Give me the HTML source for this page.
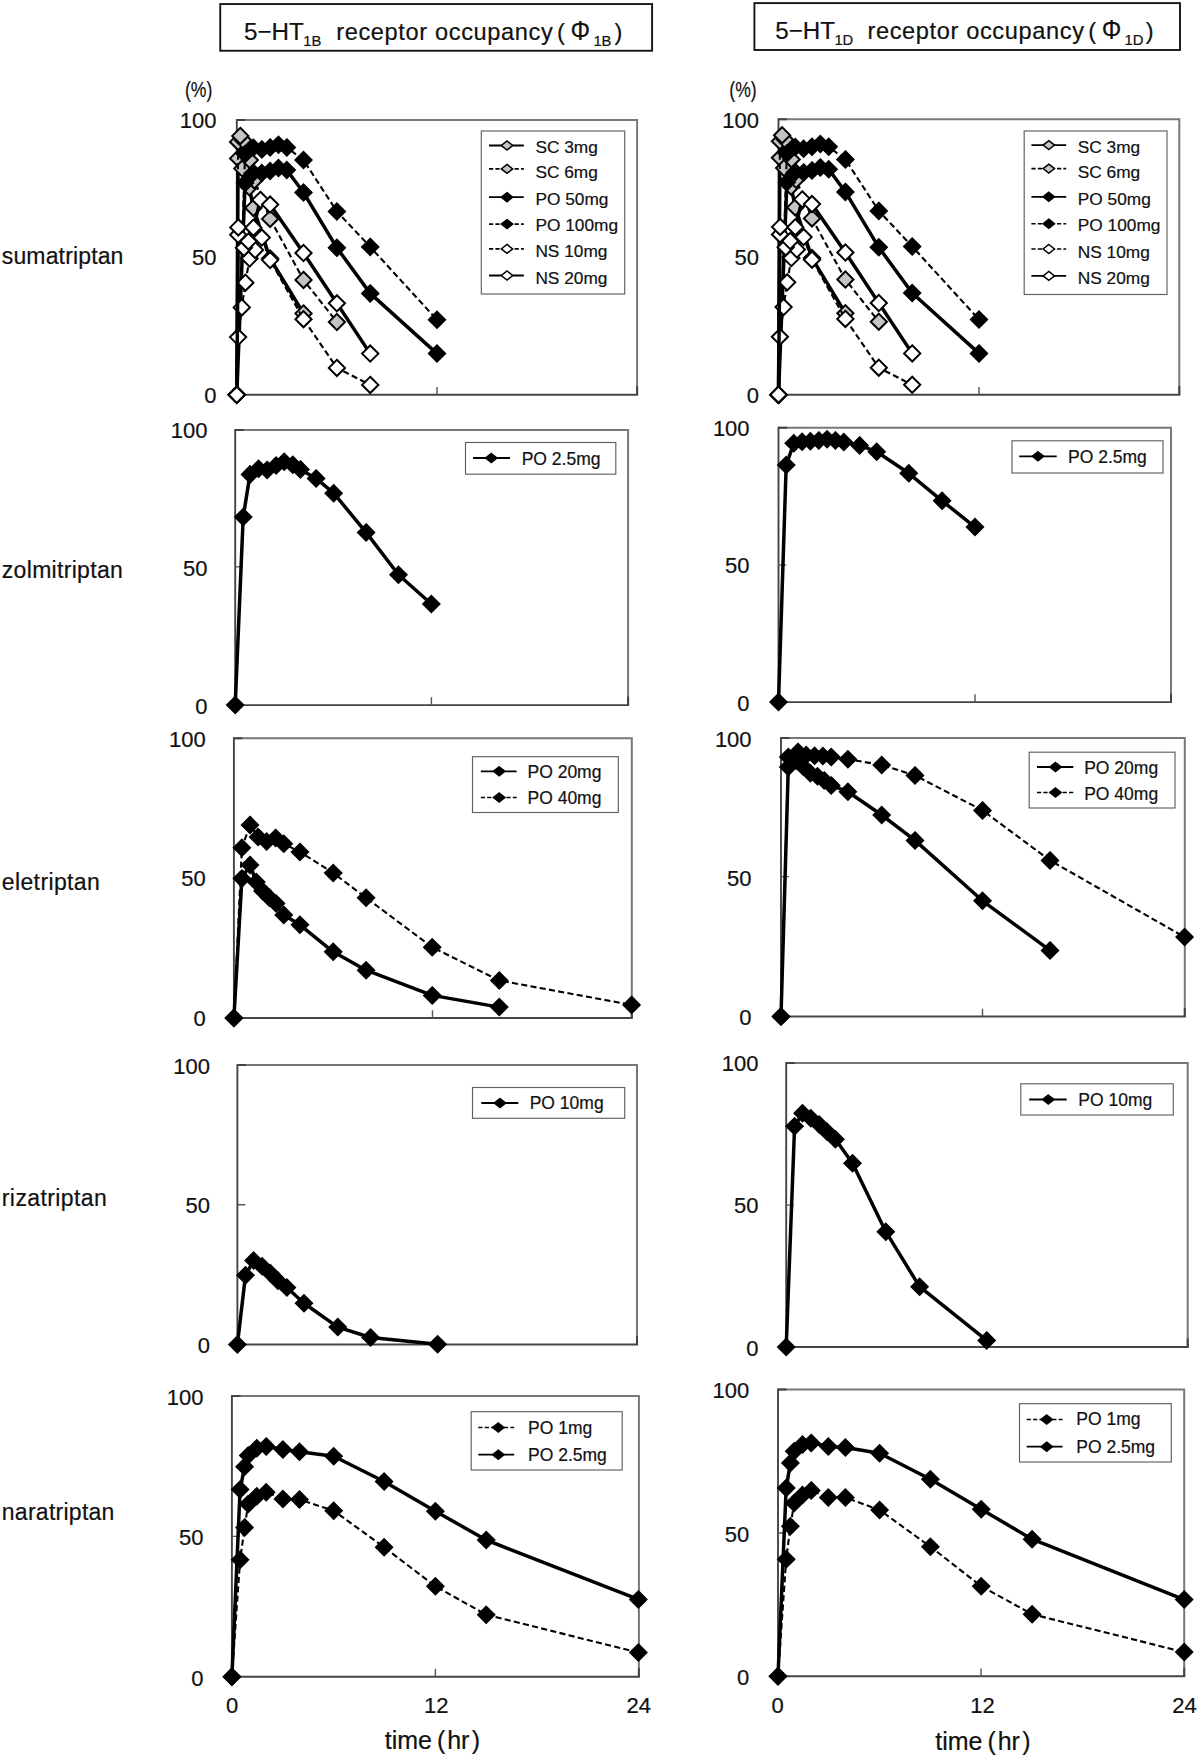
<!DOCTYPE html>
<html lang="en"><head><meta charset="utf-8"><title>Triptan 5-HT1B / 5-HT1D receptor occupancy</title>
<style>html,body{margin:0;padding:0;background:#fff}body{width:1200px;height:1755px;overflow:hidden}svg{display:block}text{font-family:'Liberation Sans', 'IPAGothic', 'Noto Sans CJK JP', sans-serif;fill:#111;stroke:#111;stroke-width:0.2px}</style>
</head><body>
<svg width="1200" height="1755" viewBox="0 0 1200 1755">
<rect width="1200" height="1755" fill="#fff"/>
<rect x="220.25" y="4.05" width="431.85" height="46.70" fill="#fff" stroke="#151515" stroke-width="1.9"/>
<text font-size="23.6"><tspan x="244.0" y="39.6" font-size="24.2">5−HT</tspan><tspan x="303.2" y="45.6" font-size="14.8">1B</tspan><tspan x="336.2" y="39.6" textLength="216.6" lengthAdjust="spacing">receptor occupancy</tspan><tspan x="557.0" y="39.8">(</tspan><tspan x="570.6" y="39.7" font-size="28" textLength="19.6" lengthAdjust="spacingAndGlyphs">Φ</tspan><tspan x="593.4" y="45.6" font-size="14.8">1B</tspan><tspan x="614.6" y="39.8">)</tspan></text>
<rect x="754.40" y="3.10" width="425.60" height="46.90" fill="#fff" stroke="#151515" stroke-width="1.9"/>
<text font-size="23.6"><tspan x="775.2" y="38.5" font-size="24.2">5−HT</tspan><tspan x="834.4" y="44.5" font-size="14.8">1D</tspan><tspan x="867.4" y="38.5" textLength="216.6" lengthAdjust="spacing">receptor occupancy</tspan><tspan x="1088.2" y="38.7">(</tspan><tspan x="1101.8" y="38.6" font-size="28" textLength="19.6" lengthAdjust="spacingAndGlyphs">Φ</tspan><tspan x="1124.6" y="44.5" font-size="14.8">1D</tspan><tspan x="1145.8" y="38.7">)</tspan></text>
<text x="185.0" y="97.4" font-size="21.5" text-anchor="start" textLength="27.4" lengthAdjust="spacingAndGlyphs">(%)</text>
<text x="729.3" y="97.2" font-size="21.5" text-anchor="start" textLength="27.4" lengthAdjust="spacingAndGlyphs">(%)</text>
<text x="1.8" y="263.6" font-size="23" text-anchor="start" stroke="none" textLength="121.6" lengthAdjust="spacing">sumatriptan</text>
<text x="1.8" y="577.5" font-size="23" text-anchor="start" stroke="none" textLength="121.0" lengthAdjust="spacing">zolmitriptan</text>
<text x="1.8" y="890.4" font-size="23" text-anchor="start" stroke="none" textLength="98.0" lengthAdjust="spacing">eletriptan</text>
<text x="1.8" y="1205.9" font-size="23" text-anchor="start" stroke="none" textLength="105.0" lengthAdjust="spacing">rizatriptan</text>
<text x="1.8" y="1519.7" font-size="23" text-anchor="start" stroke="none" textLength="112.6" lengthAdjust="spacing">naratriptan</text>
<g>
<path d="M236.8 120.0H637.1V394.8" fill="none" stroke="#787878" stroke-width="2"/>
<path d="M236.8 119.0V394.8H638.1" fill="none" stroke="#444" stroke-width="1.9"/>
<path d="M236.8 120.0h8.6M637.1 394.8v-8.6" fill="none" stroke="#444" stroke-width="2"/>
<path d="M236.8 257.4h7.8M437.0 394.8v-7.8" fill="none" stroke="#555" stroke-width="1.4"/>
<text x="216.4" y="128.2" font-size="22" text-anchor="end">100</text>
<text x="216.4" y="265.2" font-size="22" text-anchor="end">50</text>
<text x="216.4" y="403.0" font-size="22" text-anchor="end">0</text>
<rect x="481.3" y="131.0" width="143.4" height="163.0" fill="#fff" stroke="#606060" stroke-width="1.15"/>
<path d="M489.0 145.5H523.8" stroke="#000" stroke-width="1.8" fill="none"/>
<path d="M507.0 141.0L512.7 145.5L507.0 150.0L501.3 145.5Z" fill="#c4c4c4" stroke="#000" stroke-width="1.5"/>
<text x="535.4" y="152.9" font-size="17.3" text-anchor="start">SC 3mg</text>
<path d="M489.0 168.9H523.8" stroke="#000" stroke-width="1.6" stroke-dasharray="4.2 2.2" fill="none"/>
<path d="M507.0 164.4L512.7 168.9L507.0 173.4L501.3 168.9Z" fill="#c4c4c4" stroke="#000" stroke-width="1.5"/>
<text x="535.4" y="178.4" font-size="17.3" text-anchor="start">SC 6mg</text>
<path d="M489.0 197.2H523.8" stroke="#000" stroke-width="1.8" fill="none"/>
<path d="M507.0 192.7L512.7 197.2L507.0 201.7L501.3 197.2Z" fill="#000" stroke="#000" stroke-width="1.5"/>
<text x="535.4" y="205.0" font-size="17.3" text-anchor="start">PO 50mg</text>
<path d="M489.0 224.1H523.8" stroke="#000" stroke-width="1.6" stroke-dasharray="4.2 2.2" fill="none"/>
<path d="M507.0 219.6L512.7 224.1L507.0 228.6L501.3 224.1Z" fill="#000" stroke="#000" stroke-width="1.5"/>
<text x="535.4" y="231.2" font-size="17.3" text-anchor="start">PO 100mg</text>
<path d="M489.0 248.9H523.8" stroke="#000" stroke-width="1.6" stroke-dasharray="4.2 2.2" fill="none"/>
<path d="M507.0 244.4L512.7 248.9L507.0 253.4L501.3 248.9Z" fill="#fff" stroke="#000" stroke-width="1.5"/>
<text x="535.4" y="257.4" font-size="17.3" text-anchor="start">NS 10mg</text>
<path d="M489.0 275.5H523.8" stroke="#000" stroke-width="1.8" fill="none"/>
<path d="M507.0 271.0L512.7 275.5L507.0 280.0L501.3 275.5Z" fill="#fff" stroke="#000" stroke-width="1.5"/>
<text x="535.4" y="283.6" font-size="17.3" text-anchor="start">NS 20mg</text>
<path d="M236.8,394.8L238.1,158.4L244.3,152.9L242.3,168.6L249.3,187.3L253.4,207.9L270.1,258.5L303.5,313.4" fill="none" stroke="#000" stroke-width="3.5" stroke-linejoin="round"/>
<path d="M236.8 386.7L244.8 394.8L236.8 402.9L228.7 394.8Z" fill="#c4c4c4" stroke="#000" stroke-width="2.0"/>
<path d="M238.1 150.3L246.2 158.4L238.1 166.5L230.0 158.4Z" fill="#c4c4c4" stroke="#000" stroke-width="2.0"/>
<path d="M244.3 144.8L252.4 152.9L244.3 161.0L236.2 152.9Z" fill="#c4c4c4" stroke="#000" stroke-width="2.0"/>
<path d="M242.3 160.5L250.4 168.6L242.3 176.7L234.2 168.6Z" fill="#c4c4c4" stroke="#000" stroke-width="2.0"/>
<path d="M249.3 179.2L257.4 187.3L249.3 195.4L241.2 187.3Z" fill="#c4c4c4" stroke="#000" stroke-width="2.0"/>
<path d="M253.4 199.8L261.5 207.9L253.4 216.0L245.3 207.9Z" fill="#c4c4c4" stroke="#000" stroke-width="2.0"/>
<path d="M270.1 250.4L278.2 258.5L270.1 266.6L262.0 258.5Z" fill="#c4c4c4" stroke="#000" stroke-width="2.0"/>
<path d="M303.5 305.3L311.6 313.4L303.5 321.5L295.4 313.4Z" fill="#c4c4c4" stroke="#000" stroke-width="2.0"/>
<path d="M236.8,394.8L238.1,141.9L240.3,135.9L243.1,140.3L249.8,160.1L254.3,180.4L270.1,218.9L303.5,279.9L336.9,322.0" fill="none" stroke="#000" stroke-width="2.1" stroke-dasharray="6.1 3.3"/>
<path d="M236.8 386.7L244.8 394.8L236.8 402.9L228.7 394.8Z" fill="#c4c4c4" stroke="#000" stroke-width="2.0"/>
<path d="M238.1 133.8L246.2 141.9L238.1 150.0L230.0 141.9Z" fill="#c4c4c4" stroke="#000" stroke-width="2.0"/>
<path d="M243.1 132.2L251.2 140.3L243.1 148.4L235.0 140.3Z" fill="#c4c4c4" stroke="#000" stroke-width="2.0"/>
<path d="M249.8 152.0L257.9 160.1L249.8 168.2L241.7 160.1Z" fill="#c4c4c4" stroke="#000" stroke-width="2.0"/>
<path d="M254.3 172.3L262.4 180.4L254.3 188.5L246.2 180.4Z" fill="#c4c4c4" stroke="#000" stroke-width="2.0"/>
<path d="M270.1 210.8L278.2 218.9L270.1 227.0L262.0 218.9Z" fill="#c4c4c4" stroke="#000" stroke-width="2.0"/>
<path d="M303.5 271.8L311.6 279.9L303.5 288.0L295.4 279.9Z" fill="#c4c4c4" stroke="#000" stroke-width="2.0"/>
<path d="M336.9 313.9L345.0 322.0L336.9 330.1L328.8 322.0Z" fill="#c4c4c4" stroke="#000" stroke-width="2.0"/>
<path d="M240.3 127.8L248.4 135.9L240.3 144.0L232.2 135.9Z" fill="#c4c4c4" stroke="#000" stroke-width="2.0"/>
<path d="M236.8,394.8L245.1,182.9L253.4,172.7L261.8,173.0L270.1,171.1L278.5,168.0L286.8,170.0L303.5,192.5L336.9,247.8L370.2,293.4L437.0,353.6" fill="none" stroke="#000" stroke-width="3.5" stroke-linejoin="round"/>
<path d="M236.8 386.7L244.8 394.8L236.8 402.9L228.7 394.8Z" fill="#000" stroke="#000" stroke-width="2.0"/>
<path d="M245.1 174.8L253.2 182.9L245.1 191.0L237.0 182.9Z" fill="#000" stroke="#000" stroke-width="2.0"/>
<path d="M253.4 164.6L261.5 172.7L253.4 180.8L245.3 172.7Z" fill="#000" stroke="#000" stroke-width="2.0"/>
<path d="M261.8 164.9L269.9 173.0L261.8 181.1L253.7 173.0Z" fill="#000" stroke="#000" stroke-width="2.0"/>
<path d="M270.1 163.0L278.2 171.1L270.1 179.2L262.0 171.1Z" fill="#000" stroke="#000" stroke-width="2.0"/>
<path d="M278.5 159.9L286.6 168.0L278.5 176.1L270.4 168.0Z" fill="#000" stroke="#000" stroke-width="2.0"/>
<path d="M286.8 161.9L294.9 170.0L286.8 178.1L278.7 170.0Z" fill="#000" stroke="#000" stroke-width="2.0"/>
<path d="M303.5 184.4L311.6 192.5L303.5 200.6L295.4 192.5Z" fill="#000" stroke="#000" stroke-width="2.0"/>
<path d="M336.9 239.7L345.0 247.8L336.9 255.9L328.8 247.8Z" fill="#000" stroke="#000" stroke-width="2.0"/>
<path d="M370.2 285.3L378.4 293.4L370.2 301.5L362.1 293.4Z" fill="#000" stroke="#000" stroke-width="2.0"/>
<path d="M437.0 345.5L445.1 353.6L437.0 361.7L428.9 353.6Z" fill="#000" stroke="#000" stroke-width="2.0"/>
<path d="M236.8,394.8L245.1,154.0L253.4,147.7L261.8,149.4L270.1,147.4L278.5,144.7L286.8,147.4L303.5,160.1L336.9,211.5L370.2,246.9L437.0,319.8" fill="none" stroke="#000" stroke-width="2.1" stroke-dasharray="6.1 3.3"/>
<path d="M236.8 386.7L244.8 394.8L236.8 402.9L228.7 394.8Z" fill="#000" stroke="#000" stroke-width="2.0"/>
<path d="M245.1 145.9L253.2 154.0L245.1 162.1L237.0 154.0Z" fill="#000" stroke="#000" stroke-width="2.0"/>
<path d="M253.4 139.6L261.5 147.7L253.4 155.8L245.3 147.7Z" fill="#000" stroke="#000" stroke-width="2.0"/>
<path d="M261.8 141.3L269.9 149.4L261.8 157.5L253.7 149.4Z" fill="#000" stroke="#000" stroke-width="2.0"/>
<path d="M270.1 139.3L278.2 147.4L270.1 155.5L262.0 147.4Z" fill="#000" stroke="#000" stroke-width="2.0"/>
<path d="M278.5 136.6L286.6 144.7L278.5 152.8L270.4 144.7Z" fill="#000" stroke="#000" stroke-width="2.0"/>
<path d="M286.8 139.3L294.9 147.4L286.8 155.5L278.7 147.4Z" fill="#000" stroke="#000" stroke-width="2.0"/>
<path d="M303.5 152.0L311.6 160.1L303.5 168.2L295.4 160.1Z" fill="#000" stroke="#000" stroke-width="2.0"/>
<path d="M336.9 203.4L345.0 211.5L336.9 219.6L328.8 211.5Z" fill="#000" stroke="#000" stroke-width="2.0"/>
<path d="M370.2 238.8L378.4 246.9L370.2 255.0L362.1 246.9Z" fill="#000" stroke="#000" stroke-width="2.0"/>
<path d="M437.0 311.7L445.1 319.8L437.0 327.9L428.9 319.8Z" fill="#000" stroke="#000" stroke-width="2.0"/>
<path d="M236.8,394.8L238.1,337.1L241.8,307.4L245.4,282.7L249.6,258.5L255.1,250.0L261.8,237.6L270.1,260.1L303.5,319.2L336.9,367.9L370.2,384.9" fill="none" stroke="#000" stroke-width="2.1" stroke-dasharray="6.1 3.3"/>
<path d="M236.8 386.7L244.8 394.8L236.8 402.9L228.7 394.8Z" fill="#fff" stroke="#000" stroke-width="2.0"/>
<path d="M238.1 329.0L246.2 337.1L238.1 345.2L230.0 337.1Z" fill="#fff" stroke="#000" stroke-width="2.0"/>
<path d="M241.8 299.3L249.9 307.4L241.8 315.5L233.7 307.4Z" fill="#fff" stroke="#000" stroke-width="2.0"/>
<path d="M245.4 274.6L253.5 282.7L245.4 290.8L237.3 282.7Z" fill="#fff" stroke="#000" stroke-width="2.0"/>
<path d="M249.6 250.4L257.7 258.5L249.6 266.6L241.5 258.5Z" fill="#fff" stroke="#000" stroke-width="2.0"/>
<path d="M255.1 241.9L263.2 250.0L255.1 258.1L247.0 250.0Z" fill="#fff" stroke="#000" stroke-width="2.0"/>
<path d="M261.8 229.5L269.9 237.6L261.8 245.7L253.7 237.6Z" fill="#fff" stroke="#000" stroke-width="2.0"/>
<path d="M270.1 252.0L278.2 260.1L270.1 268.2L262.0 260.1Z" fill="#fff" stroke="#000" stroke-width="2.0"/>
<path d="M303.5 311.1L311.6 319.2L303.5 327.3L295.4 319.2Z" fill="#fff" stroke="#000" stroke-width="2.0"/>
<path d="M336.9 359.8L345.0 367.9L336.9 376.0L328.8 367.9Z" fill="#fff" stroke="#000" stroke-width="2.0"/>
<path d="M370.2 376.8L378.4 384.9L370.2 393.0L362.1 384.9Z" fill="#fff" stroke="#000" stroke-width="2.0"/>
<path d="M236.8,394.8L238.2,234.8L238.3,227.4L243.9,247.8L248.4,241.4L253.4,227.7L260.4,199.9L270.1,204.6L303.5,253.0L336.9,303.3L370.2,353.6" fill="none" stroke="#000" stroke-width="3.5" stroke-linejoin="round"/>
<path d="M236.8 386.7L244.8 394.8L236.8 402.9L228.7 394.8Z" fill="#fff" stroke="#000" stroke-width="2.0"/>
<path d="M238.2 226.7L246.3 234.8L238.2 242.9L230.1 234.8Z" fill="#fff" stroke="#000" stroke-width="2.0"/>
<path d="M238.3 219.3L246.4 227.4L238.3 235.5L230.2 227.4Z" fill="#fff" stroke="#000" stroke-width="2.0"/>
<path d="M243.9 239.7L252.0 247.8L243.9 255.9L235.8 247.8Z" fill="#fff" stroke="#000" stroke-width="2.0"/>
<path d="M248.4 233.3L256.5 241.4L248.4 249.5L240.3 241.4Z" fill="#fff" stroke="#000" stroke-width="2.0"/>
<path d="M253.4 219.6L261.5 227.7L253.4 235.8L245.3 227.7Z" fill="#fff" stroke="#000" stroke-width="2.0"/>
<path d="M260.4 191.8L268.5 199.9L260.4 208.0L252.3 199.9Z" fill="#fff" stroke="#000" stroke-width="2.0"/>
<path d="M270.1 196.5L278.2 204.6L270.1 212.7L262.0 204.6Z" fill="#fff" stroke="#000" stroke-width="2.0"/>
<path d="M303.5 244.9L311.6 253.0L303.5 261.1L295.4 253.0Z" fill="#fff" stroke="#000" stroke-width="2.0"/>
<path d="M336.9 295.2L345.0 303.3L336.9 311.4L328.8 303.3Z" fill="#fff" stroke="#000" stroke-width="2.0"/>
<path d="M370.2 345.5L378.4 353.6L370.2 361.7L362.1 353.6Z" fill="#fff" stroke="#000" stroke-width="2.0"/>
</g>
<g>
<path d="M778.5 119.2H1179.3V394.7" fill="none" stroke="#787878" stroke-width="2"/>
<path d="M778.5 118.2V394.7H1180.3" fill="none" stroke="#444" stroke-width="1.9"/>
<path d="M778.5 119.2h8.6M1179.3 394.7v-8.6" fill="none" stroke="#444" stroke-width="2"/>
<path d="M778.5 256.9h7.8M979.0 394.7v-7.8" fill="none" stroke="#555" stroke-width="1.4"/>
<text x="758.9" y="127.9" font-size="22" text-anchor="end">100</text>
<text x="758.9" y="265.0" font-size="22" text-anchor="end">50</text>
<text x="758.9" y="403.2" font-size="22" text-anchor="end">0</text>
<rect x="1024.2" y="131.0" width="142.8" height="163.5" fill="#fff" stroke="#606060" stroke-width="1.15"/>
<path d="M1031.4 145.1H1066.2" stroke="#000" stroke-width="1.8" fill="none"/>
<path d="M1048.8 140.6L1054.5 145.1L1048.8 149.6L1043.1 145.1Z" fill="#c4c4c4" stroke="#000" stroke-width="1.5"/>
<text x="1077.8" y="152.7" font-size="17.3" text-anchor="start">SC 3mg</text>
<path d="M1031.4 168.6H1066.2" stroke="#000" stroke-width="1.6" stroke-dasharray="4.2 2.2" fill="none"/>
<path d="M1048.8 164.1L1054.5 168.6L1048.8 173.1L1043.1 168.6Z" fill="#c4c4c4" stroke="#000" stroke-width="1.5"/>
<text x="1077.8" y="178.4" font-size="17.3" text-anchor="start">SC 6mg</text>
<path d="M1031.4 196.8H1066.2" stroke="#000" stroke-width="1.8" fill="none"/>
<path d="M1048.8 192.3L1054.5 196.8L1048.8 201.3L1043.1 196.8Z" fill="#000" stroke="#000" stroke-width="1.5"/>
<text x="1077.8" y="204.5" font-size="17.3" text-anchor="start">PO 50mg</text>
<path d="M1031.4 223.7H1066.2" stroke="#000" stroke-width="1.6" stroke-dasharray="4.2 2.2" fill="none"/>
<path d="M1048.8 219.2L1054.5 223.7L1048.8 228.2L1043.1 223.7Z" fill="#000" stroke="#000" stroke-width="1.5"/>
<text x="1077.8" y="231.1" font-size="17.3" text-anchor="start">PO 100mg</text>
<path d="M1031.4 249.0H1066.2" stroke="#000" stroke-width="1.6" stroke-dasharray="4.2 2.2" fill="none"/>
<path d="M1048.8 244.5L1054.5 249.0L1048.8 253.5L1043.1 249.0Z" fill="#fff" stroke="#000" stroke-width="1.5"/>
<text x="1077.8" y="258.0" font-size="17.3" text-anchor="start">NS 10mg</text>
<path d="M1031.4 275.9H1066.2" stroke="#000" stroke-width="1.8" fill="none"/>
<path d="M1048.8 271.4L1054.5 275.9L1048.8 280.4L1043.1 275.9Z" fill="#fff" stroke="#000" stroke-width="1.5"/>
<text x="1077.8" y="284.2" font-size="17.3" text-anchor="start">NS 20mg</text>
<path d="M778.5,394.7L779.9,157.8L786.1,152.3L784.1,168.0L791.1,186.7L795.3,207.4L812.0,258.1L845.4,313.2" fill="none" stroke="#000" stroke-width="3.5" stroke-linejoin="round"/>
<path d="M778.5 386.6L786.6 394.7L778.5 402.8L770.4 394.7Z" fill="#c4c4c4" stroke="#000" stroke-width="2.0"/>
<path d="M779.9 149.7L788.0 157.8L779.9 165.9L771.8 157.8Z" fill="#c4c4c4" stroke="#000" stroke-width="2.0"/>
<path d="M786.1 144.2L794.2 152.3L786.1 160.4L778.0 152.3Z" fill="#c4c4c4" stroke="#000" stroke-width="2.0"/>
<path d="M784.1 159.9L792.2 168.0L784.1 176.1L776.0 168.0Z" fill="#c4c4c4" stroke="#000" stroke-width="2.0"/>
<path d="M791.1 178.6L799.2 186.7L791.1 194.8L783.0 186.7Z" fill="#c4c4c4" stroke="#000" stroke-width="2.0"/>
<path d="M795.3 199.3L803.4 207.4L795.3 215.5L787.2 207.4Z" fill="#c4c4c4" stroke="#000" stroke-width="2.0"/>
<path d="M812.0 250.0L820.1 258.1L812.0 266.2L803.9 258.1Z" fill="#c4c4c4" stroke="#000" stroke-width="2.0"/>
<path d="M845.4 305.1L853.5 313.2L845.4 321.3L837.3 313.2Z" fill="#c4c4c4" stroke="#000" stroke-width="2.0"/>
<path d="M778.5,394.7L779.9,141.2L782.1,135.2L784.9,139.6L791.6,159.4L796.1,179.8L812.0,218.4L845.4,279.5L878.8,321.7" fill="none" stroke="#000" stroke-width="2.1" stroke-dasharray="6.1 3.3"/>
<path d="M778.5 386.6L786.6 394.7L778.5 402.8L770.4 394.7Z" fill="#c4c4c4" stroke="#000" stroke-width="2.0"/>
<path d="M779.9 133.1L788.0 141.2L779.9 149.3L771.8 141.2Z" fill="#c4c4c4" stroke="#000" stroke-width="2.0"/>
<path d="M784.9 131.5L793.0 139.6L784.9 147.7L776.8 139.6Z" fill="#c4c4c4" stroke="#000" stroke-width="2.0"/>
<path d="M791.6 151.3L799.7 159.4L791.6 167.5L783.5 159.4Z" fill="#c4c4c4" stroke="#000" stroke-width="2.0"/>
<path d="M796.1 171.7L804.2 179.8L796.1 187.9L788.0 179.8Z" fill="#c4c4c4" stroke="#000" stroke-width="2.0"/>
<path d="M812.0 210.3L820.1 218.4L812.0 226.5L803.9 218.4Z" fill="#c4c4c4" stroke="#000" stroke-width="2.0"/>
<path d="M845.4 271.4L853.5 279.5L845.4 287.6L837.3 279.5Z" fill="#c4c4c4" stroke="#000" stroke-width="2.0"/>
<path d="M878.8 313.6L886.9 321.7L878.8 329.8L870.7 321.7Z" fill="#c4c4c4" stroke="#000" stroke-width="2.0"/>
<path d="M782.1 127.1L790.2 135.2L782.1 143.3L774.0 135.2Z" fill="#c4c4c4" stroke="#000" stroke-width="2.0"/>
<path d="M778.5,394.7L786.9,182.3L795.3,172.1L803.6,172.4L812.0,170.4L820.3,167.4L828.7,169.3L845.4,191.9L878.8,247.3L912.2,293.0L979.0,353.4" fill="none" stroke="#000" stroke-width="3.5" stroke-linejoin="round"/>
<path d="M778.5 386.6L786.6 394.7L778.5 402.8L770.4 394.7Z" fill="#000" stroke="#000" stroke-width="2.0"/>
<path d="M786.9 174.2L795.0 182.3L786.9 190.4L778.8 182.3Z" fill="#000" stroke="#000" stroke-width="2.0"/>
<path d="M795.3 164.0L803.4 172.1L795.3 180.2L787.2 172.1Z" fill="#000" stroke="#000" stroke-width="2.0"/>
<path d="M803.6 164.3L811.7 172.4L803.6 180.5L795.5 172.4Z" fill="#000" stroke="#000" stroke-width="2.0"/>
<path d="M812.0 162.3L820.1 170.4L812.0 178.5L803.9 170.4Z" fill="#000" stroke="#000" stroke-width="2.0"/>
<path d="M820.3 159.3L828.4 167.4L820.3 175.5L812.2 167.4Z" fill="#000" stroke="#000" stroke-width="2.0"/>
<path d="M828.7 161.2L836.8 169.3L828.7 177.4L820.6 169.3Z" fill="#000" stroke="#000" stroke-width="2.0"/>
<path d="M845.4 183.8L853.5 191.9L845.4 200.0L837.3 191.9Z" fill="#000" stroke="#000" stroke-width="2.0"/>
<path d="M878.8 239.2L886.9 247.3L878.8 255.4L870.7 247.3Z" fill="#000" stroke="#000" stroke-width="2.0"/>
<path d="M912.2 284.9L920.3 293.0L912.2 301.1L904.1 293.0Z" fill="#000" stroke="#000" stroke-width="2.0"/>
<path d="M979.0 345.3L987.1 353.4L979.0 361.5L970.9 353.4Z" fill="#000" stroke="#000" stroke-width="2.0"/>
<path d="M778.5,394.7L786.9,153.4L795.3,147.0L803.6,148.7L812.0,146.8L820.3,144.0L828.7,146.8L845.4,159.4L878.8,210.9L912.2,246.5L979.0,319.5" fill="none" stroke="#000" stroke-width="2.1" stroke-dasharray="6.1 3.3"/>
<path d="M778.5 386.6L786.6 394.7L778.5 402.8L770.4 394.7Z" fill="#000" stroke="#000" stroke-width="2.0"/>
<path d="M786.9 145.3L795.0 153.4L786.9 161.5L778.8 153.4Z" fill="#000" stroke="#000" stroke-width="2.0"/>
<path d="M795.3 138.9L803.4 147.0L795.3 155.1L787.2 147.0Z" fill="#000" stroke="#000" stroke-width="2.0"/>
<path d="M803.6 140.6L811.7 148.7L803.6 156.8L795.5 148.7Z" fill="#000" stroke="#000" stroke-width="2.0"/>
<path d="M812.0 138.7L820.1 146.8L812.0 154.8L803.9 146.8Z" fill="#000" stroke="#000" stroke-width="2.0"/>
<path d="M820.3 135.9L828.4 144.0L820.3 152.1L812.2 144.0Z" fill="#000" stroke="#000" stroke-width="2.0"/>
<path d="M828.7 138.7L836.8 146.8L828.7 154.8L820.6 146.8Z" fill="#000" stroke="#000" stroke-width="2.0"/>
<path d="M845.4 151.3L853.5 159.4L845.4 167.5L837.3 159.4Z" fill="#000" stroke="#000" stroke-width="2.0"/>
<path d="M878.8 202.8L886.9 210.9L878.8 219.0L870.7 210.9Z" fill="#000" stroke="#000" stroke-width="2.0"/>
<path d="M912.2 238.4L920.3 246.5L912.2 254.6L904.1 246.5Z" fill="#000" stroke="#000" stroke-width="2.0"/>
<path d="M979.0 311.4L987.1 319.5L979.0 327.6L970.9 319.5Z" fill="#000" stroke="#000" stroke-width="2.0"/>
<path d="M778.5,394.7L779.9,336.8L783.6,307.1L787.2,282.3L791.4,258.1L796.9,249.5L803.6,237.1L812.0,259.7L845.4,318.9L878.8,367.7L912.2,384.8" fill="none" stroke="#000" stroke-width="2.1" stroke-dasharray="6.1 3.3"/>
<path d="M778.5 386.6L786.6 394.7L778.5 402.8L770.4 394.7Z" fill="#fff" stroke="#000" stroke-width="2.0"/>
<path d="M779.9 328.7L788.0 336.8L779.9 344.9L771.8 336.8Z" fill="#fff" stroke="#000" stroke-width="2.0"/>
<path d="M783.6 299.0L791.7 307.1L783.6 315.2L775.5 307.1Z" fill="#fff" stroke="#000" stroke-width="2.0"/>
<path d="M787.2 274.2L795.3 282.3L787.2 290.4L779.1 282.3Z" fill="#fff" stroke="#000" stroke-width="2.0"/>
<path d="M791.4 250.0L799.5 258.1L791.4 266.2L783.3 258.1Z" fill="#fff" stroke="#000" stroke-width="2.0"/>
<path d="M796.9 241.4L805.0 249.5L796.9 257.6L788.8 249.5Z" fill="#fff" stroke="#000" stroke-width="2.0"/>
<path d="M803.6 229.0L811.7 237.1L803.6 245.2L795.5 237.1Z" fill="#fff" stroke="#000" stroke-width="2.0"/>
<path d="M812.0 251.6L820.1 259.7L812.0 267.8L803.9 259.7Z" fill="#fff" stroke="#000" stroke-width="2.0"/>
<path d="M845.4 310.8L853.5 318.9L845.4 327.0L837.3 318.9Z" fill="#fff" stroke="#000" stroke-width="2.0"/>
<path d="M878.8 359.6L886.9 367.7L878.8 375.8L870.7 367.7Z" fill="#fff" stroke="#000" stroke-width="2.0"/>
<path d="M912.2 376.7L920.3 384.8L912.2 392.9L904.1 384.8Z" fill="#fff" stroke="#000" stroke-width="2.0"/>
<path d="M778.5,394.7L780.0,234.4L780.1,226.9L785.7,247.3L790.2,241.0L795.3,227.2L802.3,199.4L812.0,204.1L845.4,252.5L878.8,303.0L912.2,353.4" fill="none" stroke="#000" stroke-width="3.5" stroke-linejoin="round"/>
<path d="M778.5 386.6L786.6 394.7L778.5 402.8L770.4 394.7Z" fill="#fff" stroke="#000" stroke-width="2.0"/>
<path d="M780.0 226.3L788.1 234.4L780.0 242.5L771.9 234.4Z" fill="#fff" stroke="#000" stroke-width="2.0"/>
<path d="M780.1 218.8L788.2 226.9L780.1 235.0L772.0 226.9Z" fill="#fff" stroke="#000" stroke-width="2.0"/>
<path d="M785.7 239.2L793.8 247.3L785.7 255.4L777.6 247.3Z" fill="#fff" stroke="#000" stroke-width="2.0"/>
<path d="M790.2 232.9L798.3 241.0L790.2 249.1L782.1 241.0Z" fill="#fff" stroke="#000" stroke-width="2.0"/>
<path d="M795.3 219.1L803.4 227.2L795.3 235.3L787.2 227.2Z" fill="#fff" stroke="#000" stroke-width="2.0"/>
<path d="M802.3 191.3L810.4 199.4L802.3 207.5L794.2 199.4Z" fill="#fff" stroke="#000" stroke-width="2.0"/>
<path d="M812.0 196.0L820.1 204.1L812.0 212.2L803.9 204.1Z" fill="#fff" stroke="#000" stroke-width="2.0"/>
<path d="M845.4 244.4L853.5 252.5L845.4 260.6L837.3 252.5Z" fill="#fff" stroke="#000" stroke-width="2.0"/>
<path d="M878.8 294.9L886.9 303.0L878.8 311.1L870.7 303.0Z" fill="#fff" stroke="#000" stroke-width="2.0"/>
<path d="M912.2 345.3L920.3 353.4L912.2 361.5L904.1 353.4Z" fill="#fff" stroke="#000" stroke-width="2.0"/>
</g>
<g>
<path d="M235.2 430.0H628.1V705.1" fill="none" stroke="#787878" stroke-width="2"/>
<path d="M235.2 429.0V705.1H629.1" fill="none" stroke="#444" stroke-width="1.9"/>
<path d="M235.2 430.0h8.6M628.1 705.1v-8.6" fill="none" stroke="#444" stroke-width="2"/>
<path d="M235.2 566.9h7.8M431.4 705.1v-7.8" fill="none" stroke="#555" stroke-width="1.4"/>
<text x="207.5" y="438.3" font-size="22" text-anchor="end">100</text>
<text x="207.5" y="576.0" font-size="22" text-anchor="end">50</text>
<text x="207.5" y="713.8" font-size="22" text-anchor="end">0</text>
<rect x="465.5" y="442.5" width="150.3" height="31.7" fill="#fff" stroke="#606060" stroke-width="1.15"/>
<path d="M473.0 458.0H510.0" stroke="#000" stroke-width="1.8" fill="none"/>
<path d="M491.3 453.5L497.0 458.0L491.3 462.5L485.6 458.0Z" fill="#000" stroke="#000" stroke-width="1.5"/>
<text x="521.7" y="464.7" font-size="17.5" text-anchor="start">PO 2.5mg</text>
<path d="M235.2,705.1L243.2,517.1L250.0,474.4L258.6,468.7L267.1,469.9L276.1,465.6L284.2,461.8L292.8,464.7L300.4,469.4L316.1,478.4L333.7,493.2L366.1,532.4L398.5,574.7L431.4,604.0" fill="none" stroke="#000" stroke-width="3.5" stroke-linejoin="round"/>
<path d="M235.2 697.0L243.3 705.1L235.2 713.2L227.1 705.1Z" fill="#000" stroke="#000" stroke-width="2.0"/>
<path d="M243.2 509.0L251.3 517.1L243.2 525.2L235.2 517.1Z" fill="#000" stroke="#000" stroke-width="2.0"/>
<path d="M250.0 466.2L258.1 474.4L250.0 482.5L241.9 474.4Z" fill="#000" stroke="#000" stroke-width="2.0"/>
<path d="M258.6 460.6L266.7 468.7L258.6 476.8L250.5 468.7Z" fill="#000" stroke="#000" stroke-width="2.0"/>
<path d="M267.1 461.8L275.2 469.9L267.1 478.0L259.0 469.9Z" fill="#000" stroke="#000" stroke-width="2.0"/>
<path d="M276.1 457.5L284.2 465.6L276.1 473.7L268.0 465.6Z" fill="#000" stroke="#000" stroke-width="2.0"/>
<path d="M284.2 453.6L292.3 461.8L284.2 469.9L276.1 461.8Z" fill="#000" stroke="#000" stroke-width="2.0"/>
<path d="M292.8 456.6L300.9 464.7L292.8 472.8L284.6 464.7Z" fill="#000" stroke="#000" stroke-width="2.0"/>
<path d="M300.4 461.3L308.5 469.4L300.4 477.5L292.3 469.4Z" fill="#000" stroke="#000" stroke-width="2.0"/>
<path d="M316.1 470.3L324.2 478.4L316.1 486.5L308.0 478.4Z" fill="#000" stroke="#000" stroke-width="2.0"/>
<path d="M333.7 485.1L341.8 493.2L333.7 501.4L325.6 493.2Z" fill="#000" stroke="#000" stroke-width="2.0"/>
<path d="M366.1 524.3L374.2 532.4L366.1 540.5L358.0 532.4Z" fill="#000" stroke="#000" stroke-width="2.0"/>
<path d="M398.5 566.6L406.6 574.7L398.5 582.8L390.4 574.7Z" fill="#000" stroke="#000" stroke-width="2.0"/>
<path d="M431.4 595.9L439.5 604.0L431.4 612.1L423.2 604.0Z" fill="#000" stroke="#000" stroke-width="2.0"/>
</g>
<g>
<path d="M778.5 427.8H1171.0V702.1" fill="none" stroke="#787878" stroke-width="2"/>
<path d="M778.5 426.8V702.1H1172.0" fill="none" stroke="#444" stroke-width="1.9"/>
<path d="M778.5 427.8h8.6M1171.0 702.1v-8.6" fill="none" stroke="#444" stroke-width="2"/>
<path d="M778.5 565.1h7.8M975.0 702.1v-7.8" fill="none" stroke="#555" stroke-width="1.4"/>
<text x="749.6" y="435.5" font-size="22" text-anchor="end">100</text>
<text x="749.6" y="573.0" font-size="22" text-anchor="end">50</text>
<text x="749.6" y="710.7" font-size="22" text-anchor="end">0</text>
<rect x="1012.0" y="440.8" width="151.0" height="32.2" fill="#fff" stroke="#606060" stroke-width="1.15"/>
<path d="M1019.2 456.3H1056.7" stroke="#000" stroke-width="1.8" fill="none"/>
<path d="M1038.0 451.8L1043.7 456.3L1038.0 460.8L1032.3 456.3Z" fill="#000" stroke="#000" stroke-width="1.5"/>
<text x="1068.0" y="463.3" font-size="17.5" text-anchor="start">PO 2.5mg</text>
<path d="M778.5,702.1L786.2,465.0L793.8,443.3L802.1,441.7L810.4,441.2L818.8,440.4L827.1,439.2L835.4,440.4L843.8,442.1L859.6,445.4L876.7,451.7L908.8,473.3L942.1,500.8L975.0,527.1" fill="none" stroke="#000" stroke-width="3.5" stroke-linejoin="round"/>
<path d="M778.5 694.0L786.6 702.1L778.5 710.2L770.4 702.1Z" fill="#000" stroke="#000" stroke-width="2.0"/>
<path d="M786.2 456.9L794.4 465.0L786.2 473.1L778.1 465.0Z" fill="#000" stroke="#000" stroke-width="2.0"/>
<path d="M793.8 435.2L801.9 443.3L793.8 451.4L785.6 443.3Z" fill="#000" stroke="#000" stroke-width="2.0"/>
<path d="M802.1 433.6L810.2 441.7L802.1 449.8L794.0 441.7Z" fill="#000" stroke="#000" stroke-width="2.0"/>
<path d="M810.4 433.1L818.5 441.2L810.4 449.4L802.3 441.2Z" fill="#000" stroke="#000" stroke-width="2.0"/>
<path d="M818.8 432.3L826.9 440.4L818.8 448.5L810.6 440.4Z" fill="#000" stroke="#000" stroke-width="2.0"/>
<path d="M827.1 431.1L835.2 439.2L827.1 447.3L819.0 439.2Z" fill="#000" stroke="#000" stroke-width="2.0"/>
<path d="M835.4 432.3L843.5 440.4L835.4 448.5L827.3 440.4Z" fill="#000" stroke="#000" stroke-width="2.0"/>
<path d="M843.8 434.0L851.9 442.1L843.8 450.2L835.6 442.1Z" fill="#000" stroke="#000" stroke-width="2.0"/>
<path d="M859.6 437.3L867.7 445.4L859.6 453.5L851.5 445.4Z" fill="#000" stroke="#000" stroke-width="2.0"/>
<path d="M876.7 443.6L884.8 451.7L876.7 459.8L868.6 451.7Z" fill="#000" stroke="#000" stroke-width="2.0"/>
<path d="M908.8 465.2L916.9 473.3L908.8 481.4L900.6 473.3Z" fill="#000" stroke="#000" stroke-width="2.0"/>
<path d="M942.1 492.7L950.2 500.8L942.1 508.9L934.0 500.8Z" fill="#000" stroke="#000" stroke-width="2.0"/>
<path d="M975.0 519.0L983.1 527.1L975.0 535.2L966.9 527.1Z" fill="#000" stroke="#000" stroke-width="2.0"/>
</g>
<g>
<path d="M233.9 738.2H631.8V1018.0" fill="none" stroke="#787878" stroke-width="2"/>
<path d="M233.9 737.2V1018.0H632.8" fill="none" stroke="#444" stroke-width="1.9"/>
<path d="M233.9 738.2h8.6M631.8 1018.0v-8.6" fill="none" stroke="#444" stroke-width="2"/>
<path d="M233.9 878.1h7.8M432.5 1018.0v-7.8" fill="none" stroke="#555" stroke-width="1.4"/>
<text x="205.7" y="747.0" font-size="22" text-anchor="end">100</text>
<text x="205.7" y="886.4" font-size="22" text-anchor="end">50</text>
<text x="205.7" y="1025.7" font-size="22" text-anchor="end">0</text>
<rect x="472.5" y="756.7" width="145.8" height="55.8" fill="#fff" stroke="#606060" stroke-width="1.15"/>
<path d="M480.8 771.3H516.7" stroke="#000" stroke-width="1.8" fill="none"/>
<path d="M499.2 766.8L504.9 771.3L499.2 775.8L493.5 771.3Z" fill="#000" stroke="#000" stroke-width="1.5"/>
<text x="527.5" y="778.3" font-size="17.5" text-anchor="start">PO 20mg</text>
<path d="M480.8 797.5H516.7" stroke="#000" stroke-width="1.6" stroke-dasharray="4.2 2.2" fill="none"/>
<path d="M499.2 793.0L504.9 797.5L499.2 802.0L493.5 797.5Z" fill="#000" stroke="#000" stroke-width="1.5"/>
<text x="527.5" y="804.2" font-size="17.5" text-anchor="start">PO 40mg</text>
<path d="M233.9,1018.0L241.9,878.4L250.0,864.9L256.3,882.0L262.6,891.0L269.4,897.8L276.1,903.6L283.8,914.9L299.9,924.8L333.2,951.8L366.1,970.2L432.2,995.4L499.3,1007.1" fill="none" stroke="#000" stroke-width="3.5" stroke-linejoin="round"/>
<path d="M233.9 1009.9L242.0 1018.0L233.9 1026.1L225.8 1018.0Z" fill="#000" stroke="#000" stroke-width="2.0"/>
<path d="M241.9 870.3L250.0 878.4L241.9 886.5L233.8 878.4Z" fill="#000" stroke="#000" stroke-width="2.0"/>
<path d="M250.0 856.8L258.1 864.9L250.0 873.0L241.9 864.9Z" fill="#000" stroke="#000" stroke-width="2.0"/>
<path d="M256.3 873.9L264.4 882.0L256.3 890.1L248.2 882.0Z" fill="#000" stroke="#000" stroke-width="2.0"/>
<path d="M262.6 882.9L270.7 891.0L262.6 899.1L254.5 891.0Z" fill="#000" stroke="#000" stroke-width="2.0"/>
<path d="M269.4 889.6L277.5 897.8L269.4 905.9L261.2 897.8Z" fill="#000" stroke="#000" stroke-width="2.0"/>
<path d="M276.1 895.5L284.2 903.6L276.1 911.7L268.0 903.6Z" fill="#000" stroke="#000" stroke-width="2.0"/>
<path d="M283.8 906.8L291.9 914.9L283.8 923.0L275.6 914.9Z" fill="#000" stroke="#000" stroke-width="2.0"/>
<path d="M299.9 916.6L308.1 924.8L299.9 932.9L291.8 924.8Z" fill="#000" stroke="#000" stroke-width="2.0"/>
<path d="M333.2 943.6L341.4 951.8L333.2 959.9L325.1 951.8Z" fill="#000" stroke="#000" stroke-width="2.0"/>
<path d="M366.1 962.1L374.2 970.2L366.1 978.3L358.0 970.2Z" fill="#000" stroke="#000" stroke-width="2.0"/>
<path d="M432.2 987.3L440.4 995.4L432.2 1003.5L424.1 995.4Z" fill="#000" stroke="#000" stroke-width="2.0"/>
<path d="M499.3 999.0L507.4 1007.1L499.3 1015.2L491.2 1007.1Z" fill="#000" stroke="#000" stroke-width="2.0"/>
<path d="M233.9,1018.0L241.9,847.8L250.0,824.9L258.1,837.0L266.6,841.5L275.6,837.9L283.8,843.8L299.9,851.9L333.2,873.0L366.1,897.8L432.2,947.2L499.3,980.5L631.6,1004.9" fill="none" stroke="#000" stroke-width="2.1" stroke-dasharray="6.1 3.3"/>
<path d="M233.9 1009.9L242.0 1018.0L233.9 1026.1L225.8 1018.0Z" fill="#000" stroke="#000" stroke-width="2.0"/>
<path d="M241.9 839.7L250.0 847.8L241.9 855.9L233.8 847.8Z" fill="#000" stroke="#000" stroke-width="2.0"/>
<path d="M250.0 816.8L258.1 824.9L250.0 833.0L241.9 824.9Z" fill="#000" stroke="#000" stroke-width="2.0"/>
<path d="M258.1 828.9L266.2 837.0L258.1 845.1L250.0 837.0Z" fill="#000" stroke="#000" stroke-width="2.0"/>
<path d="M266.6 833.4L274.8 841.5L266.6 849.6L258.5 841.5Z" fill="#000" stroke="#000" stroke-width="2.0"/>
<path d="M275.6 829.8L283.8 837.9L275.6 846.0L267.5 837.9Z" fill="#000" stroke="#000" stroke-width="2.0"/>
<path d="M283.8 835.6L291.9 843.8L283.8 851.9L275.6 843.8Z" fill="#000" stroke="#000" stroke-width="2.0"/>
<path d="M299.9 843.8L308.1 851.9L299.9 860.0L291.8 851.9Z" fill="#000" stroke="#000" stroke-width="2.0"/>
<path d="M333.2 864.9L341.4 873.0L333.2 881.1L325.1 873.0Z" fill="#000" stroke="#000" stroke-width="2.0"/>
<path d="M366.1 889.6L374.2 897.8L366.1 905.9L358.0 897.8Z" fill="#000" stroke="#000" stroke-width="2.0"/>
<path d="M432.2 939.1L440.4 947.2L432.2 955.4L424.1 947.2Z" fill="#000" stroke="#000" stroke-width="2.0"/>
<path d="M499.3 972.4L507.4 980.5L499.3 988.6L491.2 980.5Z" fill="#000" stroke="#000" stroke-width="2.0"/>
<path d="M631.6 996.8L639.7 1004.9L631.6 1013.0L623.5 1004.9Z" fill="#000" stroke="#000" stroke-width="2.0"/>
</g>
<g>
<path d="M781.0 737.9H1184.8V1016.5" fill="none" stroke="#787878" stroke-width="2"/>
<path d="M781.0 736.9V1016.5H1185.8" fill="none" stroke="#444" stroke-width="1.9"/>
<path d="M781.0 737.9h8.6M1184.8 1016.5v-8.6" fill="none" stroke="#444" stroke-width="2"/>
<path d="M781.0 876.6h7.8M982.5 1016.5v-7.8" fill="none" stroke="#555" stroke-width="1.4"/>
<text x="751.6" y="746.5" font-size="22" text-anchor="end">100</text>
<text x="751.6" y="885.5" font-size="22" text-anchor="end">50</text>
<text x="751.6" y="1024.7" font-size="22" text-anchor="end">0</text>
<rect x="1029.2" y="752.2" width="145.8" height="55.8" fill="#fff" stroke="#606060" stroke-width="1.15"/>
<path d="M1037.0 767.0H1073.3" stroke="#000" stroke-width="1.8" fill="none"/>
<path d="M1055.5 762.5L1061.2 767.0L1055.5 771.5L1049.8 767.0Z" fill="#000" stroke="#000" stroke-width="1.5"/>
<text x="1084.2" y="773.7" font-size="17.5" text-anchor="start">PO 20mg</text>
<path d="M1037.0 792.5H1073.3" stroke="#000" stroke-width="1.6" stroke-dasharray="4.2 2.2" fill="none"/>
<path d="M1055.5 788.0L1061.2 792.5L1055.5 797.0L1049.8 792.5Z" fill="#000" stroke="#000" stroke-width="1.5"/>
<text x="1084.2" y="799.7" font-size="17.5" text-anchor="start">PO 40mg</text>
<path d="M781.0,1016.5L788.3,767.1L796.7,760.8L803.3,766.7L810.4,773.3L817.5,776.2L824.2,780.4L831.2,785.4L847.9,791.7L881.7,815.0L915.0,840.4L982.5,900.8L1050.0,950.4" fill="none" stroke="#000" stroke-width="3.5" stroke-linejoin="round"/>
<path d="M781.0 1008.4L789.1 1016.5L781.0 1024.6L772.9 1016.5Z" fill="#000" stroke="#000" stroke-width="2.0"/>
<path d="M788.3 759.0L796.4 767.1L788.3 775.2L780.2 767.1Z" fill="#000" stroke="#000" stroke-width="2.0"/>
<path d="M796.7 752.7L804.8 760.8L796.7 768.9L788.6 760.8Z" fill="#000" stroke="#000" stroke-width="2.0"/>
<path d="M803.3 758.6L811.4 766.7L803.3 774.8L795.2 766.7Z" fill="#000" stroke="#000" stroke-width="2.0"/>
<path d="M810.4 765.2L818.5 773.3L810.4 781.4L802.3 773.3Z" fill="#000" stroke="#000" stroke-width="2.0"/>
<path d="M817.5 768.1L825.6 776.2L817.5 784.4L809.4 776.2Z" fill="#000" stroke="#000" stroke-width="2.0"/>
<path d="M824.2 772.3L832.3 780.4L824.2 788.5L816.1 780.4Z" fill="#000" stroke="#000" stroke-width="2.0"/>
<path d="M831.2 777.3L839.4 785.4L831.2 793.5L823.1 785.4Z" fill="#000" stroke="#000" stroke-width="2.0"/>
<path d="M847.9 783.6L856.0 791.7L847.9 799.8L839.8 791.7Z" fill="#000" stroke="#000" stroke-width="2.0"/>
<path d="M881.7 806.9L889.8 815.0L881.7 823.1L873.6 815.0Z" fill="#000" stroke="#000" stroke-width="2.0"/>
<path d="M915.0 832.3L923.1 840.4L915.0 848.5L906.9 840.4Z" fill="#000" stroke="#000" stroke-width="2.0"/>
<path d="M982.5 892.7L990.6 900.8L982.5 908.9L974.4 900.8Z" fill="#000" stroke="#000" stroke-width="2.0"/>
<path d="M1050.0 942.3L1058.1 950.4L1050.0 958.5L1041.9 950.4Z" fill="#000" stroke="#000" stroke-width="2.0"/>
<path d="M781.0,1016.5L788.3,757.1L797.9,751.9L806.2,755.0L814.6,755.8L822.9,756.0L831.2,757.1L847.9,759.2L881.7,765.0L915.0,775.4L982.5,810.4L1050.0,860.4L1184.6,937.1" fill="none" stroke="#000" stroke-width="2.1" stroke-dasharray="6.1 3.3"/>
<path d="M781.0 1008.4L789.1 1016.5L781.0 1024.6L772.9 1016.5Z" fill="#000" stroke="#000" stroke-width="2.0"/>
<path d="M788.3 749.0L796.4 757.1L788.3 765.2L780.2 757.1Z" fill="#000" stroke="#000" stroke-width="2.0"/>
<path d="M797.9 743.8L806.0 751.9L797.9 760.0L789.8 751.9Z" fill="#000" stroke="#000" stroke-width="2.0"/>
<path d="M806.2 746.9L814.4 755.0L806.2 763.1L798.1 755.0Z" fill="#000" stroke="#000" stroke-width="2.0"/>
<path d="M814.6 747.7L822.7 755.8L814.6 763.9L806.5 755.8Z" fill="#000" stroke="#000" stroke-width="2.0"/>
<path d="M822.9 747.9L831.0 756.0L822.9 764.1L814.8 756.0Z" fill="#000" stroke="#000" stroke-width="2.0"/>
<path d="M831.2 749.0L839.4 757.1L831.2 765.2L823.1 757.1Z" fill="#000" stroke="#000" stroke-width="2.0"/>
<path d="M847.9 751.1L856.0 759.2L847.9 767.3L839.8 759.2Z" fill="#000" stroke="#000" stroke-width="2.0"/>
<path d="M881.7 756.9L889.8 765.0L881.7 773.1L873.6 765.0Z" fill="#000" stroke="#000" stroke-width="2.0"/>
<path d="M915.0 767.3L923.1 775.4L915.0 783.5L906.9 775.4Z" fill="#000" stroke="#000" stroke-width="2.0"/>
<path d="M982.5 802.3L990.6 810.4L982.5 818.5L974.4 810.4Z" fill="#000" stroke="#000" stroke-width="2.0"/>
<path d="M1050.0 852.3L1058.1 860.4L1050.0 868.5L1041.9 860.4Z" fill="#000" stroke="#000" stroke-width="2.0"/>
<path d="M1184.6 929.0L1192.7 937.1L1184.6 945.2L1176.5 937.1Z" fill="#000" stroke="#000" stroke-width="2.0"/>
</g>
<g>
<path d="M237.4 1065.0H637.0V1344.5" fill="none" stroke="#787878" stroke-width="2"/>
<path d="M237.4 1064.0V1344.5H638.0" fill="none" stroke="#444" stroke-width="1.9"/>
<path d="M237.4 1065.0h8.6M637.0 1344.5v-8.6" fill="none" stroke="#444" stroke-width="2"/>
<path d="M237.4 1204.8h7.8M437.7 1344.5v-7.8" fill="none" stroke="#555" stroke-width="1.4"/>
<text x="209.9" y="1073.8" font-size="22" text-anchor="end">100</text>
<text x="209.9" y="1213.4" font-size="22" text-anchor="end">50</text>
<text x="209.9" y="1353.0" font-size="22" text-anchor="end">0</text>
<rect x="472.5" y="1087.5" width="152.2" height="30.8" fill="#fff" stroke="#606060" stroke-width="1.15"/>
<path d="M481.3 1103.0H518.3" stroke="#000" stroke-width="1.8" fill="none"/>
<path d="M500.0 1098.5L505.7 1103.0L500.0 1107.5L494.3 1103.0Z" fill="#000" stroke="#000" stroke-width="1.5"/>
<text x="529.7" y="1108.7" font-size="17.5" text-anchor="start">PO 10mg</text>
<path d="M237.4,1344.5L245.5,1275.3L253.6,1260.5L262.1,1266.3L270.2,1273.1L277.9,1280.8L286.9,1287.5L304.0,1303.2L337.8,1327.1L370.6,1337.5L437.6,1344.2" fill="none" stroke="#000" stroke-width="3.5" stroke-linejoin="round"/>
<path d="M237.4 1336.5L245.5 1344.5L237.4 1352.6L229.3 1344.5Z" fill="#000" stroke="#000" stroke-width="2.0"/>
<path d="M245.5 1267.2L253.6 1275.3L245.5 1283.4L237.4 1275.3Z" fill="#000" stroke="#000" stroke-width="2.0"/>
<path d="M253.6 1252.4L261.7 1260.5L253.6 1268.6L245.5 1260.5Z" fill="#000" stroke="#000" stroke-width="2.0"/>
<path d="M262.1 1258.2L270.2 1266.3L262.1 1274.4L254.0 1266.3Z" fill="#000" stroke="#000" stroke-width="2.0"/>
<path d="M270.2 1265.0L278.4 1273.1L270.2 1281.2L262.1 1273.1Z" fill="#000" stroke="#000" stroke-width="2.0"/>
<path d="M277.9 1272.7L286.0 1280.8L277.9 1288.8L269.8 1280.8Z" fill="#000" stroke="#000" stroke-width="2.0"/>
<path d="M286.9 1279.4L295.0 1287.5L286.9 1295.6L278.8 1287.5Z" fill="#000" stroke="#000" stroke-width="2.0"/>
<path d="M304.0 1295.2L312.1 1303.2L304.0 1311.3L295.9 1303.2Z" fill="#000" stroke="#000" stroke-width="2.0"/>
<path d="M337.8 1319.0L345.9 1327.1L337.8 1335.2L329.6 1327.1Z" fill="#000" stroke="#000" stroke-width="2.0"/>
<path d="M370.6 1329.4L378.7 1337.5L370.6 1345.5L362.5 1337.5Z" fill="#000" stroke="#000" stroke-width="2.0"/>
<path d="M437.6 1336.1L445.8 1344.2L437.6 1352.3L429.5 1344.2Z" fill="#000" stroke="#000" stroke-width="2.0"/>
</g>
<g>
<path d="M786.2 1062.9H1187.7V1347.0" fill="none" stroke="#787878" stroke-width="2"/>
<path d="M786.2 1061.9V1347.0H1188.7" fill="none" stroke="#444" stroke-width="1.9"/>
<path d="M786.2 1062.9h8.6M1187.7 1347.0v-8.6" fill="none" stroke="#444" stroke-width="2"/>
<path d="M786.2 1205.1h7.8M986.7 1347.0v-7.8" fill="none" stroke="#555" stroke-width="1.4"/>
<text x="758.4" y="1071.4" font-size="22" text-anchor="end">100</text>
<text x="758.4" y="1213.4" font-size="22" text-anchor="end">50</text>
<text x="758.4" y="1355.7" font-size="22" text-anchor="end">0</text>
<rect x="1020.8" y="1083.8" width="152.5" height="31.2" fill="#fff" stroke="#606060" stroke-width="1.15"/>
<path d="M1029.2 1099.5H1066.7" stroke="#000" stroke-width="1.8" fill="none"/>
<path d="M1048.3 1095.0L1054.0 1099.5L1048.3 1104.0L1042.6 1099.5Z" fill="#000" stroke="#000" stroke-width="1.5"/>
<text x="1078.3" y="1105.8" font-size="17.5" text-anchor="start">PO 10mg</text>
<path d="M786.2,1347.0L794.6,1126.2L802.5,1113.3L810.8,1118.3L819.2,1124.6L827.1,1131.7L835.4,1139.2L852.5,1163.3L885.8,1231.7L919.6,1286.7L986.7,1340.4" fill="none" stroke="#000" stroke-width="3.5" stroke-linejoin="round"/>
<path d="M786.2 1339.0L794.4 1347.0L786.2 1355.1L778.1 1347.0Z" fill="#000" stroke="#000" stroke-width="2.0"/>
<path d="M794.6 1118.2L802.7 1126.2L794.6 1134.3L786.5 1126.2Z" fill="#000" stroke="#000" stroke-width="2.0"/>
<path d="M802.5 1105.2L810.6 1113.3L802.5 1121.4L794.4 1113.3Z" fill="#000" stroke="#000" stroke-width="2.0"/>
<path d="M810.8 1110.2L818.9 1118.3L810.8 1126.4L802.7 1118.3Z" fill="#000" stroke="#000" stroke-width="2.0"/>
<path d="M819.2 1116.5L827.3 1124.6L819.2 1132.7L811.1 1124.6Z" fill="#000" stroke="#000" stroke-width="2.0"/>
<path d="M827.1 1123.6L835.2 1131.7L827.1 1139.8L819.0 1131.7Z" fill="#000" stroke="#000" stroke-width="2.0"/>
<path d="M835.4 1131.1L843.5 1139.2L835.4 1147.3L827.3 1139.2Z" fill="#000" stroke="#000" stroke-width="2.0"/>
<path d="M852.5 1155.2L860.6 1163.3L852.5 1171.4L844.4 1163.3Z" fill="#000" stroke="#000" stroke-width="2.0"/>
<path d="M885.8 1223.6L893.9 1231.7L885.8 1239.8L877.7 1231.7Z" fill="#000" stroke="#000" stroke-width="2.0"/>
<path d="M919.6 1278.6L927.7 1286.7L919.6 1294.8L911.5 1286.7Z" fill="#000" stroke="#000" stroke-width="2.0"/>
<path d="M986.7 1332.3L994.8 1340.4L986.7 1348.5L978.6 1340.4Z" fill="#000" stroke="#000" stroke-width="2.0"/>
</g>
<g>
<path d="M231.9 1396.0H638.9V1676.8" fill="none" stroke="#787878" stroke-width="2"/>
<path d="M231.9 1395.0V1676.8H639.9" fill="none" stroke="#444" stroke-width="1.9"/>
<path d="M231.9 1396.0h8.6M638.9 1676.8v-8.6" fill="none" stroke="#444" stroke-width="2"/>
<path d="M231.9 1536.4h7.8M435.4 1676.8v-7.8" fill="none" stroke="#555" stroke-width="1.4"/>
<text x="203.5" y="1404.7" font-size="22" text-anchor="end">100</text>
<text x="203.5" y="1545.2" font-size="22" text-anchor="end">50</text>
<text x="203.5" y="1685.7" font-size="22" text-anchor="end">0</text>
<rect x="471.2" y="1411.7" width="151.0" height="58.3" fill="#fff" stroke="#606060" stroke-width="1.15"/>
<path d="M478.3 1427.5H514.2" stroke="#000" stroke-width="1.6" stroke-dasharray="4.2 2.2" fill="none"/>
<path d="M498.3 1423.0L504.0 1427.5L498.3 1432.0L492.6 1427.5Z" fill="#000" stroke="#000" stroke-width="1.5"/>
<text x="528.0" y="1433.7" font-size="17.5" text-anchor="start">PO 1mg</text>
<path d="M478.3 1454.7H514.2" stroke="#000" stroke-width="1.8" fill="none"/>
<path d="M498.3 1450.2L504.0 1454.7L498.3 1459.2L492.6 1454.7Z" fill="#000" stroke="#000" stroke-width="1.5"/>
<text x="528.0" y="1461.2" font-size="17.5" text-anchor="start">PO 2.5mg</text>
<path d="M231.9,1676.8L240.1,1559.8L244.6,1527.4L248.2,1504.0L256.8,1496.3L266.2,1492.3L282.9,1499.0L299.5,1499.5L333.7,1510.8L384.1,1547.2L435.4,1586.3L486.2,1614.7L638.4,1652.5" fill="none" stroke="#000" stroke-width="2.1" stroke-dasharray="6.1 3.3"/>
<path d="M231.9 1668.7L240.0 1676.8L231.9 1684.8L223.8 1676.8Z" fill="#000" stroke="#000" stroke-width="2.0"/>
<path d="M240.1 1551.7L248.2 1559.8L240.1 1567.9L232.0 1559.8Z" fill="#000" stroke="#000" stroke-width="2.0"/>
<path d="M244.6 1519.3L252.7 1527.4L244.6 1535.5L236.5 1527.4Z" fill="#000" stroke="#000" stroke-width="2.0"/>
<path d="M248.2 1495.9L256.3 1504.0L248.2 1512.1L240.1 1504.0Z" fill="#000" stroke="#000" stroke-width="2.0"/>
<path d="M256.8 1488.2L264.9 1496.3L256.8 1504.4L248.7 1496.3Z" fill="#000" stroke="#000" stroke-width="2.0"/>
<path d="M266.2 1484.2L274.3 1492.3L266.2 1500.4L258.1 1492.3Z" fill="#000" stroke="#000" stroke-width="2.0"/>
<path d="M282.9 1491.0L291.0 1499.0L282.9 1507.1L274.8 1499.0Z" fill="#000" stroke="#000" stroke-width="2.0"/>
<path d="M299.5 1491.4L307.6 1499.5L299.5 1507.6L291.4 1499.5Z" fill="#000" stroke="#000" stroke-width="2.0"/>
<path d="M333.7 1502.7L341.8 1510.8L333.7 1518.8L325.6 1510.8Z" fill="#000" stroke="#000" stroke-width="2.0"/>
<path d="M384.1 1539.1L392.2 1547.2L384.1 1555.3L376.0 1547.2Z" fill="#000" stroke="#000" stroke-width="2.0"/>
<path d="M435.4 1578.2L443.5 1586.3L435.4 1594.4L427.3 1586.3Z" fill="#000" stroke="#000" stroke-width="2.0"/>
<path d="M486.2 1606.6L494.4 1614.7L486.2 1622.8L478.1 1614.7Z" fill="#000" stroke="#000" stroke-width="2.0"/>
<path d="M638.4 1644.4L646.5 1652.5L638.4 1660.6L630.2 1652.5Z" fill="#000" stroke="#000" stroke-width="2.0"/>
<path d="M231.9,1676.8L240.1,1489.6L244.6,1466.7L248.2,1455.4L256.8,1448.2L266.2,1446.4L282.9,1449.5L299.5,1451.8L333.7,1456.3L384.1,1481.5L435.4,1511.2L486.2,1540.0L638.4,1599.4" fill="none" stroke="#000" stroke-width="3.5" stroke-linejoin="round"/>
<path d="M231.9 1668.7L240.0 1676.8L231.9 1684.8L223.8 1676.8Z" fill="#000" stroke="#000" stroke-width="2.0"/>
<path d="M240.1 1481.5L248.2 1489.6L240.1 1497.7L232.0 1489.6Z" fill="#000" stroke="#000" stroke-width="2.0"/>
<path d="M244.6 1458.6L252.7 1466.7L244.6 1474.8L236.5 1466.7Z" fill="#000" stroke="#000" stroke-width="2.0"/>
<path d="M248.2 1447.3L256.3 1455.4L248.2 1463.5L240.1 1455.4Z" fill="#000" stroke="#000" stroke-width="2.0"/>
<path d="M256.8 1440.1L264.9 1448.2L256.8 1456.3L248.7 1448.2Z" fill="#000" stroke="#000" stroke-width="2.0"/>
<path d="M266.2 1438.3L274.3 1446.4L266.2 1454.5L258.1 1446.4Z" fill="#000" stroke="#000" stroke-width="2.0"/>
<path d="M282.9 1441.5L291.0 1449.5L282.9 1457.6L274.8 1449.5Z" fill="#000" stroke="#000" stroke-width="2.0"/>
<path d="M299.5 1443.7L307.6 1451.8L299.5 1459.9L291.4 1451.8Z" fill="#000" stroke="#000" stroke-width="2.0"/>
<path d="M333.7 1448.2L341.8 1456.3L333.7 1464.4L325.6 1456.3Z" fill="#000" stroke="#000" stroke-width="2.0"/>
<path d="M384.1 1473.4L392.2 1481.5L384.1 1489.6L376.0 1481.5Z" fill="#000" stroke="#000" stroke-width="2.0"/>
<path d="M435.4 1503.1L443.5 1511.2L435.4 1519.3L427.3 1511.2Z" fill="#000" stroke="#000" stroke-width="2.0"/>
<path d="M486.2 1531.9L494.4 1540.0L486.2 1548.1L478.1 1540.0Z" fill="#000" stroke="#000" stroke-width="2.0"/>
<path d="M638.4 1591.3L646.5 1599.4L638.4 1607.5L630.2 1599.4Z" fill="#000" stroke="#000" stroke-width="2.0"/>
</g>
<g>
<path d="M778.0 1389.6H1184.2V1676.2" fill="none" stroke="#787878" stroke-width="2"/>
<path d="M778.0 1388.6V1676.2H1185.2" fill="none" stroke="#444" stroke-width="1.9"/>
<path d="M778.0 1389.6h8.6M1184.2 1676.2v-8.6" fill="none" stroke="#444" stroke-width="2"/>
<path d="M778.0 1533.0h7.8M981.0 1676.2v-7.8" fill="none" stroke="#555" stroke-width="1.4"/>
<text x="749.3" y="1398.3" font-size="22" text-anchor="end">100</text>
<text x="749.3" y="1541.5" font-size="22" text-anchor="end">50</text>
<text x="749.3" y="1684.8" font-size="22" text-anchor="end">0</text>
<rect x="1019.5" y="1403.7" width="151.8" height="58.3" fill="#fff" stroke="#606060" stroke-width="1.15"/>
<path d="M1026.7 1419.5H1062.5" stroke="#000" stroke-width="1.6" stroke-dasharray="4.2 2.2" fill="none"/>
<path d="M1046.7 1415.0L1052.4 1419.5L1046.7 1424.0L1041.0 1419.5Z" fill="#000" stroke="#000" stroke-width="1.5"/>
<text x="1076.3" y="1425.3" font-size="17.5" text-anchor="start">PO 1mg</text>
<path d="M1026.7 1446.7H1062.5" stroke="#000" stroke-width="1.8" fill="none"/>
<path d="M1046.7 1442.2L1052.4 1446.7L1046.7 1451.2L1041.0 1446.7Z" fill="#000" stroke="#000" stroke-width="1.5"/>
<text x="1076.3" y="1453.0" font-size="17.5" text-anchor="start">PO 2.5mg</text>
<path d="M778.0,1676.2L786.2,1559.2L790.4,1526.2L794.2,1502.9L802.5,1495.0L811.2,1490.4L828.3,1497.5L845.4,1497.5L879.6,1510.0L930.4,1546.7L981.2,1586.2L1032.1,1614.2L1184.2,1652.1" fill="none" stroke="#000" stroke-width="2.1" stroke-dasharray="6.1 3.3"/>
<path d="M778.0 1668.2L786.1 1676.2L778.0 1684.3L769.9 1676.2Z" fill="#000" stroke="#000" stroke-width="2.0"/>
<path d="M786.2 1551.1L794.4 1559.2L786.2 1567.3L778.1 1559.2Z" fill="#000" stroke="#000" stroke-width="2.0"/>
<path d="M790.4 1518.2L798.5 1526.2L790.4 1534.3L782.3 1526.2Z" fill="#000" stroke="#000" stroke-width="2.0"/>
<path d="M794.2 1494.8L802.3 1502.9L794.2 1511.0L786.1 1502.9Z" fill="#000" stroke="#000" stroke-width="2.0"/>
<path d="M802.5 1486.9L810.6 1495.0L802.5 1503.1L794.4 1495.0Z" fill="#000" stroke="#000" stroke-width="2.0"/>
<path d="M811.2 1482.3L819.4 1490.4L811.2 1498.5L803.1 1490.4Z" fill="#000" stroke="#000" stroke-width="2.0"/>
<path d="M828.3 1489.4L836.4 1497.5L828.3 1505.6L820.2 1497.5Z" fill="#000" stroke="#000" stroke-width="2.0"/>
<path d="M845.4 1489.4L853.5 1497.5L845.4 1505.6L837.3 1497.5Z" fill="#000" stroke="#000" stroke-width="2.0"/>
<path d="M879.6 1501.9L887.7 1510.0L879.6 1518.1L871.5 1510.0Z" fill="#000" stroke="#000" stroke-width="2.0"/>
<path d="M930.4 1538.6L938.5 1546.7L930.4 1554.8L922.3 1546.7Z" fill="#000" stroke="#000" stroke-width="2.0"/>
<path d="M981.2 1578.2L989.4 1586.2L981.2 1594.3L973.1 1586.2Z" fill="#000" stroke="#000" stroke-width="2.0"/>
<path d="M1032.1 1606.1L1040.2 1614.2L1032.1 1622.3L1024.0 1614.2Z" fill="#000" stroke="#000" stroke-width="2.0"/>
<path d="M1184.2 1644.0L1192.3 1652.1L1184.2 1660.2L1176.1 1652.1Z" fill="#000" stroke="#000" stroke-width="2.0"/>
<path d="M778.0,1676.2L786.2,1487.9L790.4,1462.9L794.2,1451.2L802.5,1444.6L811.2,1442.9L828.3,1446.5L845.4,1447.5L879.6,1453.3L930.4,1479.2L981.2,1509.2L1032.1,1539.2L1184.2,1599.6" fill="none" stroke="#000" stroke-width="3.5" stroke-linejoin="round"/>
<path d="M778.0 1668.2L786.1 1676.2L778.0 1684.3L769.9 1676.2Z" fill="#000" stroke="#000" stroke-width="2.0"/>
<path d="M786.2 1479.8L794.4 1487.9L786.2 1496.0L778.1 1487.9Z" fill="#000" stroke="#000" stroke-width="2.0"/>
<path d="M790.4 1454.8L798.5 1462.9L790.4 1471.0L782.3 1462.9Z" fill="#000" stroke="#000" stroke-width="2.0"/>
<path d="M794.2 1443.2L802.3 1451.2L794.2 1459.3L786.1 1451.2Z" fill="#000" stroke="#000" stroke-width="2.0"/>
<path d="M802.5 1436.5L810.6 1444.6L802.5 1452.7L794.4 1444.6Z" fill="#000" stroke="#000" stroke-width="2.0"/>
<path d="M811.2 1434.8L819.4 1442.9L811.2 1451.0L803.1 1442.9Z" fill="#000" stroke="#000" stroke-width="2.0"/>
<path d="M828.3 1438.4L836.4 1446.5L828.3 1454.6L820.2 1446.5Z" fill="#000" stroke="#000" stroke-width="2.0"/>
<path d="M845.4 1439.4L853.5 1447.5L845.4 1455.6L837.3 1447.5Z" fill="#000" stroke="#000" stroke-width="2.0"/>
<path d="M879.6 1445.2L887.7 1453.3L879.6 1461.4L871.5 1453.3Z" fill="#000" stroke="#000" stroke-width="2.0"/>
<path d="M930.4 1471.1L938.5 1479.2L930.4 1487.3L922.3 1479.2Z" fill="#000" stroke="#000" stroke-width="2.0"/>
<path d="M981.2 1501.1L989.4 1509.2L981.2 1517.3L973.1 1509.2Z" fill="#000" stroke="#000" stroke-width="2.0"/>
<path d="M1032.1 1531.1L1040.2 1539.2L1032.1 1547.3L1024.0 1539.2Z" fill="#000" stroke="#000" stroke-width="2.0"/>
<path d="M1184.2 1591.5L1192.3 1599.6L1184.2 1607.7L1176.1 1599.6Z" fill="#000" stroke="#000" stroke-width="2.0"/>
</g>
<text x="232.0" y="1712.5" font-size="22" text-anchor="middle">0</text>
<text x="436.2" y="1712.5" font-size="22" text-anchor="middle">12</text>
<text x="638.8" y="1712.5" font-size="22" text-anchor="middle">24</text>
<text x="777.5" y="1712.5" font-size="22" text-anchor="middle">0</text>
<text x="982.5" y="1712.5" font-size="22" text-anchor="middle">12</text>
<text x="1184.4" y="1712.5" font-size="22" text-anchor="middle">24</text>
<text y="1749.3" font-size="25"><tspan x="384.8">time</tspan><tspan x="437.0">(</tspan><tspan x="447.2">hr</tspan><tspan x="471.8">)</tspan></text>
<text y="1749.6" font-size="25"><tspan x="935.3">time</tspan><tspan x="987.5">(</tspan><tspan x="997.7">hr</tspan><tspan x="1022.3">)</tspan></text>
</svg></body></html>
